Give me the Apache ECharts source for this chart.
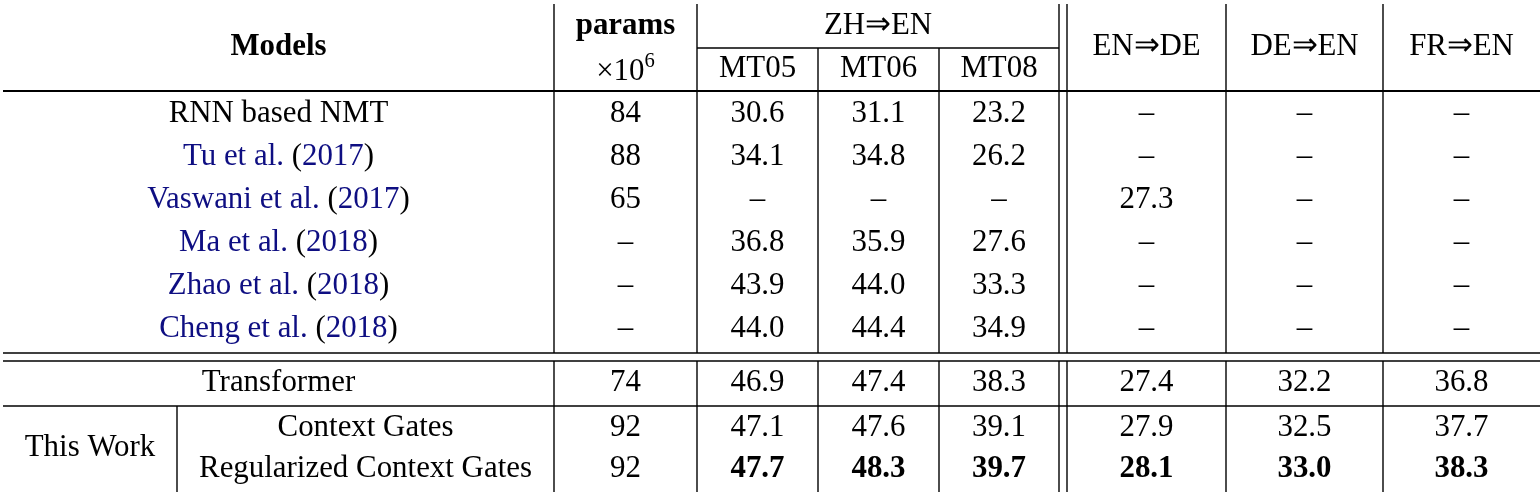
<!DOCTYPE html>
<html>
<head>
<meta charset="utf-8">
<script src="https://cdn.jsdelivr.net/npm/echarts@6/dist/echarts.min.js"></script>
<style>
  html, body { margin: 0; padding: 0; background: #fff; }
  #chart { width: 1540px; height: 495px; }
</style>
</head>
<body>
<div id="chart"></div>
<script>
// ---------------- DATA ----------------
const headerModels = 'Models';
const headerParams = 'params';
const headerParamsUnit = ['×10', '6'];
const headerGroup = 'ZH⇒EN';
const subColumns = ['MT05', 'MT06', 'MT08'];
const otherColumns = ['EN⇒DE', 'DE⇒EN', 'FR⇒EN'];
const groupLabel = 'This Work';

const models = [
  'RNN based NMT',
  'Tu et al. (2017)',
  'Vaswani et al. (2017)',
  'Ma et al. (2018)',
  'Zhao et al. (2018)',
  'Cheng et al. (2018)',
  'Transformer',
  'Context Gates',
  'Regularized Context Gates'
];
const params = [84, 88, 65, null, null, null, 74, 92, 92];
const mt05 = [30.6, 34.1, null, 36.8, 43.9, 44.0, 46.9, 47.1, 47.7];
const mt06 = [31.1, 34.8, null, 35.9, 44.0, 44.4, 47.4, 47.6, 48.3];
const mt08 = [23.2, 26.2, null, 27.6, 33.3, 34.9, 38.3, 39.1, 39.7];
const enDe = [null, null, 27.3, null, null, null, 27.4, 27.9, 28.1];
const deEn = [null, null, null, null, null, null, 32.2, 32.5, 33.0];
const frEn = [null, null, null, null, null, null, 36.8, 37.7, 38.3];
const boldRow = 8;

// ---------------- LAYOUT (positions in axis units) ----------------
const W = 1540, H = 495;
const FONT = '"Liberation Serif", "Times New Roman", serif';
const FS = 30;
const SX = 1.03;
const SY = 1.065;
const INK = '#000000';
const CITE = '#0e0e82';
const LW = 1.4;

const L = { left: 3, models: 554, params: 697, mt05: 818, mt06: 939, dblA: 1059, dblB: 1067, ende: 1226, deen: 1383, right: 1540, sub: 177 };
const Y = { top: 4, groupLine: 48, head: 91, dblA: 353, dblB: 361, mid: 406, bottom: 492 };
const headTopY = 26, headBotY = 69, headMidY = 47;
const rowY = [114, 157, 200, 243, 286, 329, 383, 428, 469];
const groupY = 448;

const colCenter = {
  models: (L.left + L.models) / 2,
  modelsSub: (L.sub + L.models) / 2,
  modelsGroup: (L.left + L.sub) / 2,
  params: (L.models + L.params) / 2,
  mt05: (L.params + L.mt05) / 2,
  mt06: (L.mt05 + L.mt06) / 2,
  mt08: (L.mt06 + L.dblA) / 2,
  ende: (L.dblB + L.ende) / 2,
  deen: (L.ende + L.deen) / 2,
  fren: (L.deen + L.right) / 2
};

// ---------------- build cells ----------------
const DASH = '–';
const fmt1 = v => (v === null) ? DASH : v.toFixed(1);
const fmtInt = v => (v === null) ? DASH : String(v);

const cells = []; // [x, y, text, kind]
cells.push([colCenter.models, headMidY, headerModels, 'bold']);
cells.push([colCenter.params, headTopY, headerParams, 'bold']);
cells.push([colCenter.params, headBotY, '{n|' + headerParamsUnit[0] + '}{s|' + headerParamsUnit[1] + '}', 'sup']);
cells.push([(L.params + L.dblA) / 2, headTopY, headerGroup, 'normal']);
[colCenter.mt05, colCenter.mt06, colCenter.mt08].forEach((x, i) => cells.push([x, headBotY, subColumns[i], 'normal']));
[colCenter.ende, colCenter.deen, colCenter.fren].forEach((x, i) => cells.push([x, headMidY, otherColumns[i], 'normal']));
cells.push([colCenter.modelsGroup, groupY, groupLabel, 'normal']);

models.forEach((m, i) => {
  const y = rowY[i];
  const mx = i >= 7 ? colCenter.modelsSub : colCenter.models;
  const cm = m.match(/^(.*) \((\d{4})\)$/);
  if (cm) cells.push([mx, y, '{c|' + cm[1] + '} ({c|' + cm[2] + '})', 'cite']);
  else cells.push([mx, y, m, 'normal']);
  cells.push([colCenter.params, y, fmtInt(params[i]), 'normal']);
  const kind = i === boldRow ? 'bold' : 'normal';
  const cols = [[colCenter.mt05, mt05], [colCenter.mt06, mt06], [colCenter.mt08, mt08],
                [colCenter.ende, enDe], [colCenter.deen, deEn], [colCenter.fren, frEn]];
  cols.forEach(([x, arr]) => cells.push([x, y, fmt1(arr[i]), arr[i] === null ? 'normal' : kind]));
});

// ---------------- rules ----------------
const rules = []; // [x1, y1, x2, y2, width]
rules.push([L.params, Y.groupLine, L.dblA, Y.groupLine, LW]);
rules.push([L.left, Y.head, L.right, Y.head, 1.8]);
rules.push([L.left, Y.dblA, L.right, Y.dblA, LW]);
rules.push([L.left, Y.dblB, L.right, Y.dblB, LW]);
rules.push([L.left, Y.mid, L.right, Y.mid, LW]);
[L.models, L.params, L.dblA, L.dblB, L.ende, L.deen].forEach(x => {
  rules.push([x, Y.top, x, Y.dblA, LW]);
  rules.push([x, Y.dblB, x, Y.bottom, LW]);
});
[L.mt05, L.mt06].forEach(x => {
  rules.push([x, Y.groupLine, x, Y.dblA, LW]);
  rules.push([x, Y.dblB, x, Y.bottom, LW]);
});
rules.push([L.sub, Y.mid, L.sub, Y.bottom, LW]);

// ---------------- chart ----------------
const chart = echarts.init(document.getElementById('chart'), null, { renderer: 'canvas' });
chart.setOption({
  backgroundColor: '#ffffff',
  animation: false,
  grid: { left: 0, right: 0, top: 0, bottom: 0 },
  xAxis: { type: 'value', min: 0, max: W, show: false },
  yAxis: { type: 'value', min: 0, max: H, inverse: true, show: false },
  series: [
    {
      type: 'custom',
      coordinateSystem: 'cartesian2d',
      silent: true,
      data: rules,
      renderItem: (params, api) => {
        const p1 = api.coord([api.value(0), api.value(1)]);
        const p2 = api.coord([api.value(2), api.value(3)]);
        return {
          type: 'line',
          shape: { x1: p1[0], y1: p1[1], x2: p2[0], y2: p2[1] },
          style: { stroke: INK, lineWidth: api.value(4) }
        };
      }
    },
    {
      type: 'custom',
      coordinateSystem: 'cartesian2d',
      silent: true,
      data: cells,
      renderItem: (params, api) => {
        const d = cells[params.dataIndex];
        const p = api.coord([d[0], d[1]]);
        const kind = d[3];
        const style = {
          text: d[2],
          fontFamily: FONT,
          fontSize: FS,
          fontWeight: kind === 'bold' ? 'bold' : 'normal',
          fill: INK,
          align: 'center',
          verticalAlign: 'middle'
        };
        if (kind === 'cite') {
          style.rich = { c: { fill: CITE, fontFamily: FONT, fontSize: FS } };
        }
        if (kind === 'sup') {
          style.rich = {
            n: { fontFamily: FONT, fontSize: FS, lineHeight: 34, fill: INK, verticalAlign: 'bottom' },
            s: { fontFamily: FONT, fontSize: 20, lineHeight: 20, fill: INK, verticalAlign: 'top' }
          };
        }
        return { type: 'text', x: p[0], y: p[1], scaleX: SX, scaleY: SY, style: style };
      }
    }
  ]
});
</script>
</body>
</html>
